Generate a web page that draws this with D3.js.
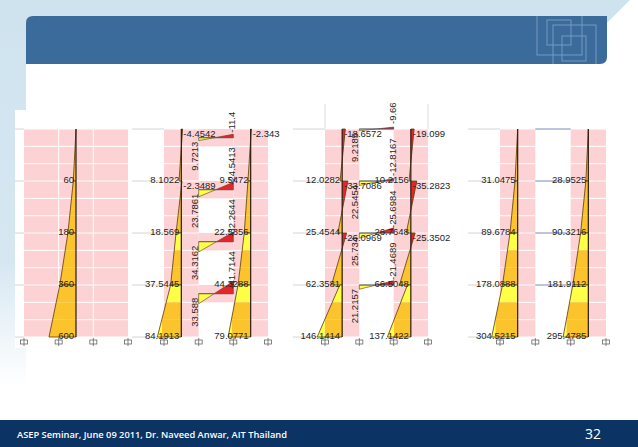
<!DOCTYPE html>
<html>
<head>
<meta charset="utf-8">
<script src="https://cdn.jsdelivr.net/npm/d3@7"></script>
<style>
  body { margin: 0; background: #fff; }
  svg text { font-family: "Liberation Sans", Arial, sans-serif; }
</style>
</head>
<body>
<div id="slide"></div>
<script>
// moments per storey, roof storey first, each as [top, bottom]
const cantileverMoments = [[0, 60], [60, 180], [180, 360], [360, 600]];

const frameALeftCol   = [[-4.4542, 8.1022], [-2.3489, 18.569], [18.569, 37.5445], [37.5445, 84.1913]];
const frameARightCol  = [[-2.343, 9.5472], [9.5472, 22.5356], [22.5356, 44.3288], [44.3288, 79.0771]];
const frameABeamLeft  = [9.7213, 23.7861, 34.3162, 33.588];
const frameABeamRight = [-11.4, -24.5413, -32.2644, -41.7144];

const frameBLeftCol   = [[-18.6572, 12.0282], [-33.7086, 25.4544], [-26.0969, 62.3581], [14, 146.1414]];
const frameBRightCol  = [[-19.099, 10.2156], [-35.2823, 26.7648], [-25.3502, 66.5048], [20, 137.1422]];
const frameBBeamLeft  = [9.2185, 22.5454, 25.734, 21.2157];
const frameBBeamRight = [-9.66, -12.8167, -25.6984, -21.4689];

const frameCLeftCol   = [[0, 31.0475], [31.0475, 89.6784], [89.6784, 178.0888], [178.0888, 304.5215]];
const frameCRightCol  = [[0, 28.9525], [28.9525, 90.3216], [90.3216, 181.9112], [181.9112, 295.4785]];

const footerText = "ASEP Seminar, June 09 2011,  Dr. Naveed Anwar, AIT Thailand";
const slideNumber = "32";

const W = 638, H = 447;
const pink = "#fdd2d5", gold = "#fbc32c", yellow = "#ffff45", red = "#e4262c";
const edge = "#5a3a0c", ink = "#1e1e1e";

const svg = d3.select("#slide").append("svg")
  .attr("width", W)
  .attr("height", H);

// ---------- slide background ----------
const defs = svg.append("defs");
const fade = defs.append("linearGradient").attr("id", "bandFade")
  .attr("x1", 0).attr("y1", 0).attr("x2", 0).attr("y2", 1);
fade.append("stop").attr("offset", "0%").attr("stop-color", "#cfe3ef");
fade.append("stop").attr("offset", "62%").attr("stop-color", "#d6e7f1");
fade.append("stop").attr("offset", "92%").attr("stop-color", "#ffffff");

svg.append("rect").attr("width", W).attr("height", H).attr("fill", "#fff");
svg.append("rect").attr("x", 0).attr("y", 0).attr("width", 26).attr("height", 420)
  .attr("fill", "url(#bandFade)");
svg.append("path").attr("d", "M0,0 H630 L598,32 H0 Z").attr("fill", "#cfe3ef");

const headerPath = "M26,64 V23 Q26,16 33,16 H607 V57 Q607,64 600,64 Z";
defs.append("clipPath").attr("id", "hdrClip").append("path").attr("d", headerPath);
svg.append("path").attr("d", headerPath).attr("fill", "#3b6b9b");

// logo outlines
const logo = svg.append("g").attr("clip-path", "url(#hdrClip)")
  .attr("fill", "none").attr("stroke", "#7599c1").attr("stroke-width", 1);
[[537, 12, 45, 43], [547, 20, 24, 25], [553, 25, 43, 45], [562, 36, 24, 25]].forEach(r => {
  logo.append("rect").attr("x", r[0]).attr("y", r[1]).attr("width", r[2]).attr("height", r[3]);
});

// pasted picture area
svg.append("rect").attr("x", 15).attr("y", 110).attr("width", 615).attr("height", 238).attr("fill", "#fff");

// footer
svg.append("rect").attr("x", 0).attr("y", 420).attr("width", W).attr("height", 27).attr("fill", "#0b3464");
svg.append("text").attr("x", 17).attr("y", 437.5)
  .attr("fill", "#fff").style("font-family", "'Open Sans', sans-serif")
  .style("font-size", "9.5px").style("font-weight", 600)
  .attr("textLength", 270).attr("lengthAdjust", "spacingAndGlyphs")
  .text(footerText);
svg.append("text").attr("x", 585).attr("y", 439)
  .attr("fill", "#fff").style("font-family", "'Open Sans', sans-serif")
  .style("font-size", "14px")
  .text(slideNumber);

// ---------- moment diagrams ----------
const y = d3.scaleLinear().domain([0, 4]).range([337, 129]);
const rowH = y(0) - y(1 / 3);
const floors = [0, 1, 2, 3, 4];

const layout = [
  { left: 24,  width: 104, cols: [[1.5, cantileverMoments]], maxPx: 27, full: true, shade: false },
  { left: 164, width: 104, cols: [[0.5, frameALeftCol], [2.5, frameARightCol]], maxPx: 24, shade: true,
    beams: [frameABeamLeft, frameABeamRight], beamK: 0.3, beamDrop: 0.5, beamBand: true },
  { left: 325, width: 103, cols: [[0.5, frameBLeftCol], [2.5, frameBRightCol]], maxPx: 25, shade: true,
    beams: [frameBBeamLeft, frameBBeamRight], beamK: 0.2, beamDrop: 0, topTicks: true },
  { left: 500, width: 106, cols: [[0.5, frameCLeftCol], [2.5, frameCRightCol]], maxPx: 26, shade: true,
    plainBeams: true }
];

const yellowRows = [6, 9], tipRow = 11;

layout.forEach(p => {
  const g = svg.append("g");
  const x = d3.scaleLinear().domain([0, 3]).range([p.left, p.left + p.width]);
  const allM = p.cols.flatMap(c => c[1].flat());
  const k = d3.scaleLinear().domain([0, d3.max(allM, Math.abs)]).range([0, p.maxPx]);
  const strips = p.full ? [[0, 3]] : [[0, 1], [2, 3]];

  // grey floor guides left of the panel
  g.append("g").selectAll("line").data(floors).join("line")
    .attr("x1", Math.max(15, x(0) - 32)).attr("x2", x(0))
    .attr("y1", d => y(d)).attr("y2", d => y(d))
    .attr("stroke", "#d4d4d4");

  if (p.topTicks) {
    g.append("g").selectAll("line").data([0, 3]).join("line")
      .attr("x1", d => x(d)).attr("x2", d => x(d))
      .attr("y1", 104).attr("y2", y(4))
      .attr("stroke", "#dcdcdc");
  }

  // pink strips
  g.append("g").selectAll("rect").data(strips).join("rect")
    .attr("x", d => x(d[0])).attr("width", d => x(d[1]) - x(d[0]))
    .attr("y", y(4)).attr("height", y(0) - y(4))
    .attr("fill", pink);

  if (p.beamBand) {
    g.append("g").selectAll("rect").data([1, 2, 3, 4]).join("rect")
      .attr("x", x(1)).attr("width", x(2) - x(1))
      .attr("y", d => y(d)).attr("height", rowH)
      .attr("fill", pink);
  }

  // white grid inside the strips
  const gridRows = d3.range(13).map(r => r / 3);
  const grid = g.append("g").attr("stroke", "#fff").attr("stroke-width", 1);
  strips.forEach(s => {
    grid.selectAll(null).data(gridRows).join("line")
      .attr("x1", x(s[0])).attr("x2", x(s[1]))
      .attr("y1", d => y(d)).attr("y2", d => y(d));
  });
  if (p.full) {
    grid.selectAll(null).data([1, 2]).join("line")
      .attr("x1", d => x(d)).attr("x2", d => x(d))
      .attr("y1", y(4)).attr("y2", y(0));
  }

  // beams
  const beamLevels = [4, 3, 2, 1];
  if (p.plainBeams) {
    g.append("g").selectAll("line").data(beamLevels).join("line")
      .attr("x1", x(1)).attr("x2", x(2))
      .attr("y1", d => y(d)).attr("y2", d => y(d))
      .attr("stroke", "#7b88c2").attr("stroke-width", 1);
  }
  if (p.beams) {
    const bg = g.append("g");
    beamLevels.forEach((lv, i) => {
      const by = y(lv) + p.beamDrop * rowH;
      const vL = p.beams[0][i], vR = p.beams[1][i];
      const x1 = x(1), x2 = x(2);
      const tc = vL / (vL - vR);
      const xc = x1 + (x2 - x1) * tc;
      bg.append("path")
        .attr("d", `M${x1},${by} L${x1},${by + vL * p.beamK} L${xc},${by} Z`)
        .attr("fill", yellow).attr("stroke", edge).attr("stroke-width", 0.6);
      bg.append("path")
        .attr("d", `M${xc},${by} L${x2},${by + vR * p.beamK} L${x2},${by} Z`)
        .attr("fill", red).attr("stroke", edge).attr("stroke-width", 0.6);
      bg.append("line")
        .attr("x1", x1).attr("x2", x2).attr("y1", by).attr("y2", by)
        .attr("stroke", "#4d5a92").attr("stroke-width", 0.8);
      // end values, written along the columns
      bg.append("text")
        .attr("transform", `translate(${x1 - 1},${by + 4}) rotate(-90)`)
        .attr("text-anchor", "end").attr("fill", ink).style("font-size", "9.5px")
        .text(String(vL));
      bg.append("text")
        .attr("transform", `translate(${x2 + 2},${by - 5}) rotate(-90)`)
        .attr("text-anchor", "start").attr("fill", ink).style("font-size", "9.5px")
        .text(String(vR));
    });
  }

  // column diagrams
  p.cols.forEach(([at, stories]) => {
    const cx = x(at);
    const cg = g.append("g");
    const mx = v => cx - k(v);
    stories.forEach((s, i) => {
      const lvTop = 4 - i;
      for (let r = 0; r < 3; r++) {
        const rowIndex = i * 3 + r;
        const t0 = r / 3, t1 = (r + 1) / 3;
        const a = s[0] + (s[1] - s[0]) * t0, b = s[0] + (s[1] - s[0]) * t1;
        const y0 = y(lvTop - t0), y1 = y(lvTop - t1);
        let pieces = [[a, b, y0, y1]];
        if (a * b < 0) {
          const tc = a / (a - b), yc = y0 + (y1 - y0) * tc;
          pieces = [[a, 0, y0, yc], [0, b, yc, y1]];
        }
        pieces.forEach(([va, vb, ya, yb]) => {
          const neg = va + vb < 0;
          let fill = neg ? red : gold;
          if (!neg && p.shade && yellowRows.includes(rowIndex)) fill = yellow;
          if (!neg && p.shade && rowIndex === tipRow && vb > va) {
            cg.append("path")
              .attr("d", `M${cx},${ya} L${mx(va)},${ya} L${mx(va)},${yb} L${cx},${yb} Z`)
              .attr("fill", gold);
            cg.append("path")
              .attr("d", `M${mx(va)},${ya} L${mx(vb)},${yb} L${mx(va)},${yb} Z`)
              .attr("fill", yellow);
          } else {
            cg.append("path")
              .attr("d", `M${cx},${ya} L${mx(va)},${ya} L${mx(vb)},${yb} L${cx},${yb} Z`)
              .attr("fill", fill);
          }
        });
      }
      cg.append("path")
        .attr("d", `M${cx},${y(lvTop)} L${mx(s[0])},${y(lvTop)} L${mx(s[1])},${y(lvTop - 1)} L${cx},${y(lvTop - 1)}`)
        .attr("fill", "none").attr("stroke", edge).attr("stroke-width", 0.8);
    });
    cg.append("line")
      .attr("x1", cx).attr("x2", cx).attr("y1", y(4)).attr("y2", y(0))
      .attr("stroke", "#2a1a0e").attr("stroke-width", 1.2);

    // value labels
    const lg = g.append("g").attr("fill", ink).style("font-size", "9.5px");
    stories.forEach((s, i) => {
      const lvTop = 4 - i;
      if (s[0] < 0) {
        lg.append("text").attr("x", cx + 2).attr("y", y(lvTop) + 8)
          .text(String(s[0]));
      }
      lg.append("text").attr("x", cx - 2).attr("y", y(lvTop - 1) + 2)
        .attr("text-anchor", "end")
        .text(String(s[1]));
    });
  });

  // supports
  const sg = g.append("g").attr("stroke", "#666").attr("stroke-width", 0.8).attr("fill", "none");
  [0, 1, 2, 3].forEach(i => {
    const sx = x(i), sy = y(0);
    sg.append("rect").attr("x", sx - 3.5).attr("y", sy + 3).attr("width", 7).attr("height", 4);
    sg.append("line").attr("x1", sx).attr("x2", sx).attr("y1", sy + 1).attr("y2", sy + 9);
  });
});
</script>
</body>
</html>
